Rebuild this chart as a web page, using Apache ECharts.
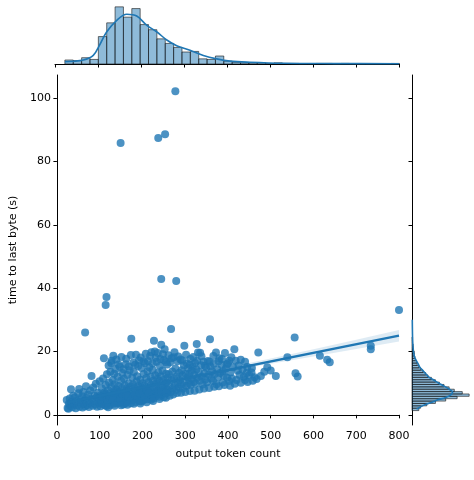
<!DOCTYPE html>
<html><head><meta charset="utf-8">
<script src="https://cdn.jsdelivr.net/npm/echarts@6/dist/echarts.min.js"></script>
<style>html,body{margin:0;padding:0;background:#fff}#c{width:474px;height:480px}</style>
</head><body><div id="c"></div>
<script>
// ---- data ----
const xTicks = [0,100,200,300,400,500,600,700,800];
const yTicks = [0,20,40,60,80,100];
const xLabel = 'output token count';
const yLabel = 'time to last byte (s)';

// scatter points [output tokens, time to last byte]
const points = [
[23,4.7],[25,2.2],[27,1.9],[28,3.5],[30,5.2],[31,2.8],[33,8.1],[35,4.1],[36,2.4],[38,6.0],[40,3.2],[42,5.5],[44,2.1],[46,4.4],[48,3.0],[50,6.8],[52,8.2],[53,2.6],[55,4.9],[57,3.8],[59,5.9],[60,2.3],
[62,7.2],[63,3.4],[65,4.6],[66,2.7],[68,9.0],[70,5.3],[71,3.1],[73,6.4],[75,2.5],[76,4.0],[78,7.7],[79,3.6],[81,12.3],[82,5.0],[84,2.9],[85,8.6],[87,4.3],[88,6.1],[90,3.3],[91,9.8],[93,5.6],[94,2.6],[96,7.0],[97,4.8],[99,3.8],[100,10.6],
[101,6.0],[102,2.7],[104,4.5],[105,8.3],[106,3.4],[108,11.5],[109,5.2],[110,17.9],[111,7.1],[112,3.0],[113,4.1],[114,9.4],[115,6.3],[116,2.8],[117,12.8],[118,5.0],[119,3.7],[120,7.8],[121,4.4],[122,10.2],[123,6.7],[124,3.1],[125,13.6],[126,5.7],[127,8.8],[128,17.1],[129,4.0],[130,6.2],[131,11.0],[132,18.7],[133,3.5],[134,7.4],[135,9.7],[136,5.1],[137,14.5],[138,4.3],[139,8.0],[140,6.6],
[141,3.6],[142,12.0],[143,5.5],[144,9.1],[145,4.2],[146,7.3],[147,15.2],[148,3.9],[149,6.0],[150,10.8],[151,4.7],[152,8.5],[153,13.2],[154,5.8],[155,3.3],[156,7.0],[157,11.4],[158,4.9],[159,9.3],[160,6.4],[161,16.0],[162,3.8],[163,8.1],[164,5.2],[165,12.6],[166,7.6],[167,4.4],[168,10.0],[169,6.8],[170,14.1],[171,5.0],[172,8.9],[173,3.7],[174,24.0],[175,7.2],[176,11.8],[177,4.6],[178,9.6],[179,6.1],[180,13.5],[181,5.4],[182,8.3],[183,15.8],[184,4.1],[185,7.0],[186,10.5],[187,6.3],[188,12.2],[189,4.8],[190,9.0],[191,5.9],[192,17.2],[193,7.8],[194,4.3],[195,11.1],[196,6.6],[197,8.7],[198,14.8],[199,5.3],[200,10.0],
[201,7.4],[202,4.6],[203,12.9],[204,6.0],[205,9.2],[206,16.3],[207,5.1],[208,8.0],[209,11.6],[210,6.9],[211,4.9],[212,13.8],[213,7.7],[214,10.3],[215,5.6],[216,15.0],[217,8.4],[218,6.2],[219,12.0],[220,9.5],[221,19.8],[222,5.4],[223,7.1],[224,14.2],[225,10.8],[226,6.4],[227,23.4],[228,8.8],[229,20.0],[230,12.5],[231,5.9],[232,9.9],[233,16.8],[234,7.5],[235,11.3],[236,6.7],[237,13.4],[238,8.2],[239,5.7],[240,10.6],[241,15.5],[242,7.0],[243,12.1],[244,22.1],[245,9.1],[246,6.3],[247,14.0],[248,8.6],[249,11.0],[250,17.3],[251,7.3],[252,20.7],[253,9.8],[254,6.8],[255,13.0],[256,10.2],[257,8.0],[258,15.9],[259,11.7],[260,7.7],
[262,12.8],[263,9.0],[265,16.6],[266,7.2],[267,27.1],[268,10.9],[270,13.7],[271,8.5],[273,18.2],[274,11.4],[276,9.3],[277,14.6],[279,7.9],[280,12.2],[282,16.9],[283,10.1],[285,8.7],[286,13.3],[288,11.0],[289,17.5],[291,9.6],[292,14.1],[294,12.4],[295,8.3],[297,15.6],[298,21.8],[299,10.5],[301,13.0],[303,9.1],[304,16.2],[306,11.8],[307,14.7],[309,10.0],[310,12.9],[312,17.6],[313,9.5],[315,13.9],[316,11.3],[318,15.1],[320,10.4],[321,12.6],[323,16.4],[324,9.9],[326,14.3],[327,22.4],[329,11.7],
[330,19.7],[332,13.5],[334,10.8],[335,19.6],[337,15.7],[339,12.0],[341,9.6],[343,16.8],[345,13.1],[347,11.2],[349,14.9],[351,10.3],[353,17.0],[355,12.7],[358,23.9],[359,15.3],[361,11.5],[363,13.8],[365,10.7],[367,16.1],[369,12.9],[372,19.7],[373,9.7],[375,14.4],[377,11.9],[380,17.9],[382,13.2],[385,15.8],[388,10.2],[388,13.8],[390,12.4],[393,19.5],[395,14.6],[398,11.7],[400,16.3],[403,10.7],[403,17.1],[406,13.4],[409,11.5],[412,15.0],[415,20.7],[418,17.1],[420,11.0],[423,14.0],[427,12.6],[430,17.4],[434,14.3],[437,12.0],[440,11.0],[440,16.8],[444,13.2],[450,12.6],[456,14.8],[462,11.9],[467,11.3],[471,19.7],[477,12.3],[485,13.6],[492,15.0],[500,14.0],[512,12.3],
[264,6.0],[272,6.4],[281,6.9],[290,7.0],[300,7.2],[311,7.5],[322,7.6],[333,8.0],[344,8.3],[356,8.5],[368,8.9],[379,9.0],[392,9.4],[405,9.2],[416,9.8],[430,10.1],[446,10.4],[458,10.8],
[105,5.9],[112,6.6],[118,4.7],[124,5.3],[131,4.8],[136,6.9],[143,4.0],[148,5.1],[153,6.7],[158,3.5],[163,6.2],[167,5.8],[172,4.5],[178,5.5],[183,6.4],[188,5.0],[194,6.9],[198,4.2],[205,5.5],[210,7.9],[215,6.8],[220,4.8],[226,5.2],[232,7.6],[238,6.5],[245,7.4],[250,5.6],[256,6.9],[120,2.4],[135,2.9],[150,3.0],[165,3.2],[180,3.5],[195,3.6],[210,4.0],[225,4.4],[240,5.0],[255,5.4],
[121,15.6],[127,16.4],[134,13.0],[139,17.5],[144,15.9],[151,18.3],[156,14.4],[162,17.7],[168,15.3],[173,18.9],[179,16.5],[185,19.0],[190,15.4],[196,18.1],[203,16.9],[208,19.3],[213,17.0],[218,18.6],[224,16.2],[231,18.0],[236,19.5],[242,17.6],[248,19.1],[255,16.7],[261,18.8],[268,17.9],[275,19.8],[284,18.4],[293,17.2],[302,19.0],[311,15.8],[319,18.3],[328,17.1],[338,18.5],[346,15.4],[357,16.8],[366,18.6],[378,16.9],[386,17.6],[397,15.9],[408,18.2],[425,15.6],[445,15.1],[455,13.4],
[539,18.2],[556,24.4],[558,13.1],[563,12.1],[615,18.7],[632,17.4],[638,16.6],[734,21.8],[734,20.7],[800,33.1],
[66,26.0],[114,34.7],[116,37.2],[149,85.8],[237,87.4],[253,88.6],[244,42.9],[279,42.3],[277,102.2]
];

// regression fit line and confidence band
const regX = [23, 800];
const regY = [3.9, 25.0];
const ciX  = [23, 100, 200, 300, 400, 500, 600, 700, 800];
const ciLo = [3.3, 5.7, 8.7, 11.4, 13.9, 16.1, 18.4, 20.8, 23.2];
const ciHi = [4.5, 6.5, 9.3, 12.1, 15.0, 17.8, 20.7, 23.7, 26.8];

// top marginal histogram (output token count)
const topBinStart = 23;
const topBinWidth = 19.45;
const topCounts = [7,6,11,8,48,72,100,82,97,69,60,44,36,29,21,22,9,8,14,5,3,2,2,2,1,2,1,1,0,0,1,1,0,1,0,0,0,0,0,1];
const topKdeX = [23,66,89,105,120,143,167,190,213,237,260,283,314,345,376,407,453,531,650,800];
const topKdeY = [4,7,15,35,56,76,87,84,68,56,42,32,24,15,9,5,3,1.2,0.7,0.5];

// right marginal histogram (time to last byte)
const rightBinStart = 1.35;
const rightBinWidth = 0.75;
const rightCounts = [12,15,26,41,59,79,100,88,74,65,56,48,41,34,28,24,19,15,12,9,8,6,5,4,4,2,2,2,1,1,1];
const rightKdeY = [1.8,3.0,4.0,4.7,5.5,6.5,7.2,8.0,9.0,10.0,11.0,12.0,13.0,14.2,15.0,16.0,17.0,18.0,19.5,21,23,26,30];
const rightKdeX = [8,20,35,44,59,69,71,66,57,47,38,29,24,18,14,11,8,5,3,2,1.2,0.8,0.5];

// ---- chart ----
const C = '#1f77b4';
const FONT = 'DejaVu Sans';
const chart = echarts.init(document.getElementById('c'), null, {renderer:'canvas'});
const XMIN = 0, XMAX = 800, YMIN = -3.2, YMAX = 107.3;
const axisLineStyle = {color:'#000', width:1};

const topBins = topCounts.map((c,i)=>[topBinStart+i*topBinWidth, topBinStart+(i+1)*topBinWidth, c]);
const rightBins = rightCounts.map((c,i)=>[rightBinStart+i*rightBinWidth, rightBinStart+(i+1)*rightBinWidth, c]);

const histStyle = {fill:'rgba(31,119,180,0.5)', stroke:'rgba(20,20,20,0.75)', lineWidth:0.8};

chart.setOption({
  animation:false,
  grid:[
    {left:55, top:75, width:344, height:350},
    {left:55, top:4, width:344, height:60},
    {left:412, top:75, width:60, height:350}
  ],
  xAxis:[
    {gridIndex:0, type:'value', min:XMIN, max:XMAX, name:xLabel, nameLocation:'middle', nameGap:24,
     nameTextStyle:{fontFamily:FONT, fontSize:11, color:'#000'},
     axisLine:{show:true, lineStyle:axisLineStyle}, axisTick:{show:true, length:3.5, customValues:xTicks, lineStyle:axisLineStyle},
     axisLabel:{customValues:xTicks, fontFamily:FONT, fontSize:11, color:'#000', margin:6}, splitLine:{show:false}},
    {gridIndex:1, type:'value', min:XMIN, max:XMAX,
     axisLine:{show:true, lineStyle:axisLineStyle}, axisTick:{show:true, length:3.5, customValues:xTicks, lineStyle:axisLineStyle},
     axisLabel:{show:false}, splitLine:{show:false}},
    {gridIndex:2, type:'value', min:0, max:105, show:false, splitLine:{show:false}}
  ],
  yAxis:[
    {gridIndex:0, type:'value', min:YMIN, max:YMAX, name:yLabel, nameLocation:'middle', nameGap:34, nameRotate:90,
     nameTextStyle:{fontFamily:FONT, fontSize:11, color:'#000'},
     axisLine:{show:true, lineStyle:axisLineStyle}, axisTick:{show:true, length:3.5, customValues:yTicks, lineStyle:axisLineStyle},
     axisLabel:{customValues:yTicks, fontFamily:FONT, fontSize:11, color:'#000', margin:6}, splitLine:{show:false}},
    {gridIndex:1, type:'value', min:0, max:105, show:false, splitLine:{show:false}},
    {gridIndex:2, type:'value', min:YMIN, max:YMAX,
     axisLine:{show:true, lineStyle:axisLineStyle}, axisTick:{show:true, length:3.5, customValues:yTicks, lineStyle:axisLineStyle},
     axisLabel:{show:false}, splitLine:{show:false}}
  ],
  series:[
    {type:'scatter', xAxisIndex:0, yAxisIndex:0, data:points, symbolSize:8,
     itemStyle:{color:C, opacity:0.8}, z:2},
    {type:'custom', xAxisIndex:0, yAxisIndex:0, data:[[0]], z:3, silent:true,
     renderItem:function(params, api){
       const pts = [];
       for (let i=0;i<ciX.length;i++) pts.push(api.coord([ciX[i], ciHi[i]]));
       for (let i=ciX.length-1;i>=0;i--) pts.push(api.coord([ciX[i], ciLo[i]]));
       return {type:'polygon', shape:{points:pts}, style:{fill:'rgba(31,119,180,0.15)'}};
     }},
    {type:'line', xAxisIndex:0, yAxisIndex:0, data:regX.map((x,i)=>[x, regY[i]]), showSymbol:false,
     lineStyle:{color:C, width:2.4}, z:4, silent:true},
    {type:'custom', xAxisIndex:1, yAxisIndex:1, data:topBins, z:2, silent:true,
     renderItem:function(params, api){
       const p0 = api.coord([api.value(0), 0]);
       const p1 = api.coord([api.value(1), api.value(2)]);
       return {type:'rect', shape:{x:p0[0], y:p1[1], width:p1[0]-p0[0], height:p0[1]-p1[1]}, style:histStyle};
     }},
    {type:'line', xAxisIndex:1, yAxisIndex:1, data:topKdeX.map((x,i)=>[x, topKdeY[i]]), showSymbol:false, smooth:0.35,
     lineStyle:{color:C, width:1.6}, z:3, silent:true},
    {type:'custom', xAxisIndex:2, yAxisIndex:2, data:rightBins, z:2, silent:true,
     renderItem:function(params, api){
       const p0 = api.coord([0, api.value(0)]);
       const p1 = api.coord([api.value(2), api.value(1)]);
       return {type:'rect', shape:{x:p0[0], y:p1[1], width:p1[0]-p0[0], height:p0[1]-p1[1]}, style:histStyle};
     }},
    {type:'line', xAxisIndex:2, yAxisIndex:2, data:rightKdeY.map((y,i)=>[rightKdeX[i], y]), showSymbol:false, smooth:0.35,
     lineStyle:{color:C, width:1.6}, z:3, silent:true}
  ]
});
</script></body></html>
